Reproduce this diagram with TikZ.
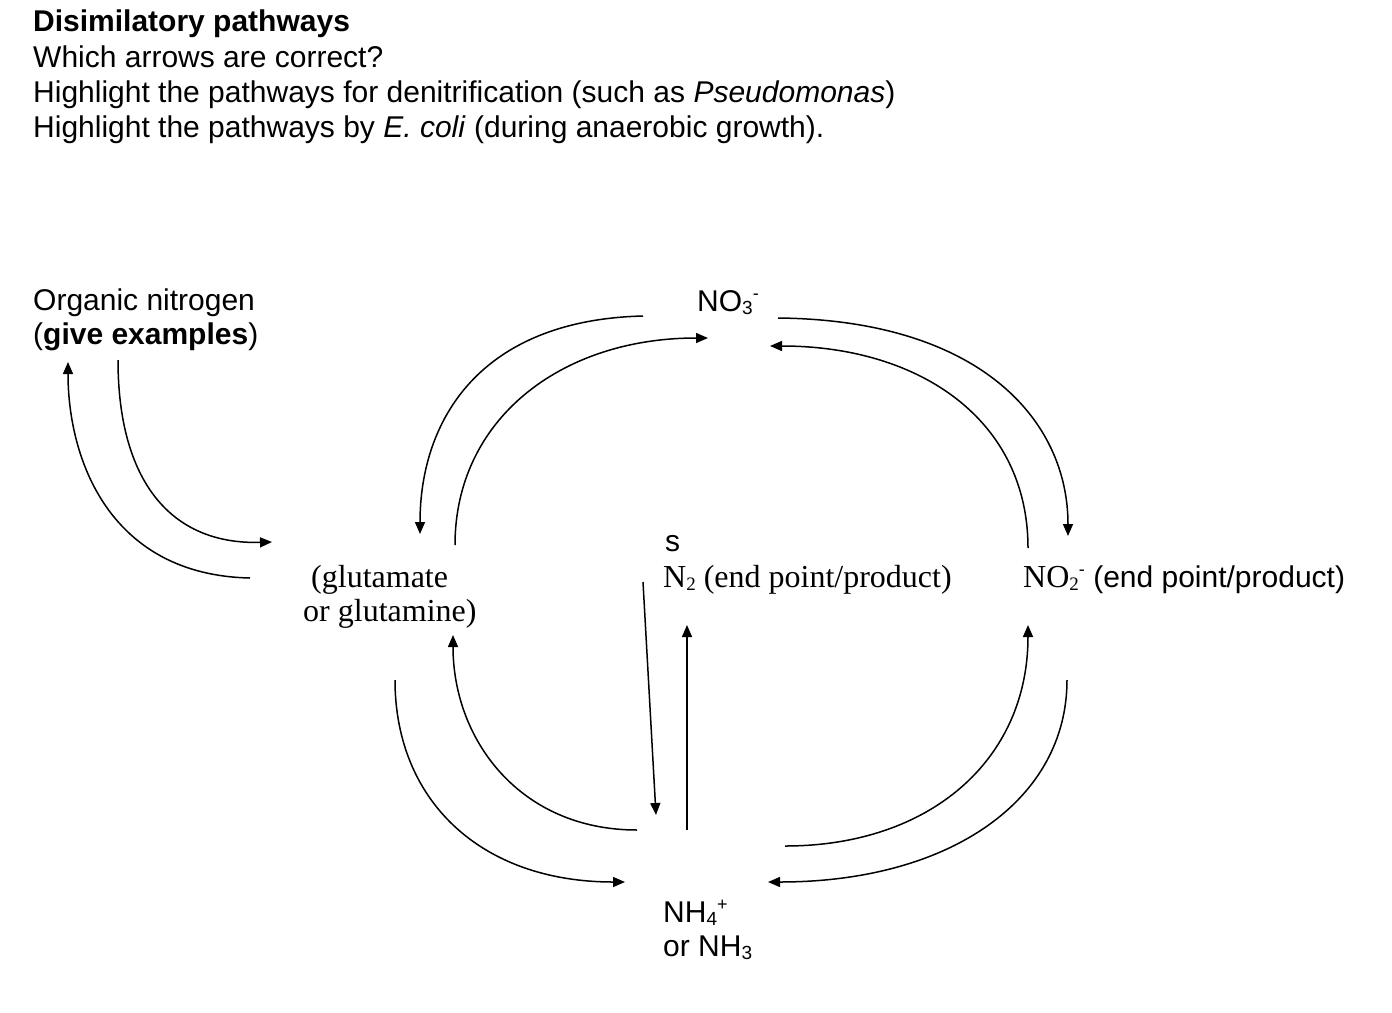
\documentclass[tikz,border=0pt]{standalone}
\usepackage{fontspec}
\setmainfont{Liberation Sans}
\newfontfamily\srf{Liberation Serif}
\usetikzlibrary{arrows.meta}
\newcommand{\sbs}[1]{\raisebox{-0.25ex}{\fontsize{19}{19}\selectfont #1}}
\newcommand{\sps}[1]{\raisebox{0.7ex}{\fontsize{18}{18}\selectfont #1}}
\begin{document}
\begin{tikzpicture}[x=1pt,y=-1pt,
  txt/.style={anchor=base west,inner sep=0pt,font=\fontsize{30}{34}\selectfont},
  stxt/.style={anchor=base west,inner sep=0pt,font=\fontsize{32}{34}\selectfont\srf},
  arr/.style={line width=1.5pt,-{Triangle[length=12pt,width=10pt]}}]
\useasboundingbox (0,0) rectangle (1392,1012);
\node[txt] (t1) at (33,31) {\textbf{Disimilatory pathways}};
\node[txt] (t2) at (33,67) {Which arrows are correct?};
\node[txt] (t3) at (33,102) {Highlight the pathways for denitrification (such as \textit{Pseudomonas})};
\node[txt] (t4) at (33,137) {Highlight the pathways by \textit{E. coli} (during anaerobic growth).};
\node[txt] (org) at (33,310) {Organic nitrogen};
\node[txt] (org2) at (33,344) {(\textbf{give examples})};
\node[txt] (no3) at (697,311) {NO\sbs{3}\sps{-}};
\node[stxt] (glu) at (311,587) {(glutamate};
\node[stxt] (glu2) at (303,621) {or glutamine)};
\node[txt] (s) at (665,551) {s};
\node[stxt] (n2) at (663,587) {N\sbs{2} (end point/product)};
\node[txt] (no2) at (1023,587) {{\srf\fontsize{32}{34}\selectfont NO\sbs{2}}\sps{-} (end point/product)};
\node[txt] (nh4) at (663,922) {NH\sbs{4}\sps{+}};
\node[txt] (nh3) at (663,956) {or NH\sbs{3}};
% endpoints
\coordinate (a1) at (250,578); \coordinate (b1) at (68,362);
\coordinate (a2) at (118,360); \coordinate (b2) at (272,542);
\coordinate (a3) at (643,316); \coordinate (b3) at (420,534);
\coordinate (a4) at (455,545); \coordinate (b4) at (708,338);
\coordinate (a5) at (778,318); \coordinate (b5) at (1068,536);
\coordinate (a6) at (1028,548); \coordinate (b6) at (770,346);
\coordinate (a7) at (395,680); \coordinate (b7) at (625,882);
\coordinate (a8) at (637,830); \coordinate (b8) at (453,635);
\coordinate (a9) at (643,582); \coordinate (b9) at (656,815);
\coordinate (a10) at (687,830); \coordinate (b10) at (687,625);
\coordinate (a11) at (1067,680); \coordinate (b11) at (768,882);
\coordinate (a12) at (785,846); \coordinate (b12) at (1028,625);
\draw[arr] (a1) .. controls (110,575) and (68,460) .. (b1);
\draw[arr] (a2) .. controls (118,480) and (170,545) .. (b2);
\draw[arr] (a3) .. controls (480,320) and (420,420) .. (b3);
\draw[arr] (a4) .. controls (455,420) and (560,338) .. (b4);
\draw[arr] (a5) .. controls (980,320) and (1068,420) .. (b5);
\draw[arr] (a6) .. controls (1028,420) and (920,346) .. (b6);
\draw[arr] (a7) .. controls (395,800) and (480,882) .. (b7);
\draw[arr] (a8) .. controls (520,830) and (453,740) .. (b8);
\draw[arr] (a9) -- (b9);
\draw[arr] (a10) -- (b10);
\draw[arr] (a11) .. controls (1067,800) and (950,882) .. (b11);
\draw[arr] (a12) .. controls (930,846) and (1028,760) .. (b12);
\end{tikzpicture}
\end{document}
